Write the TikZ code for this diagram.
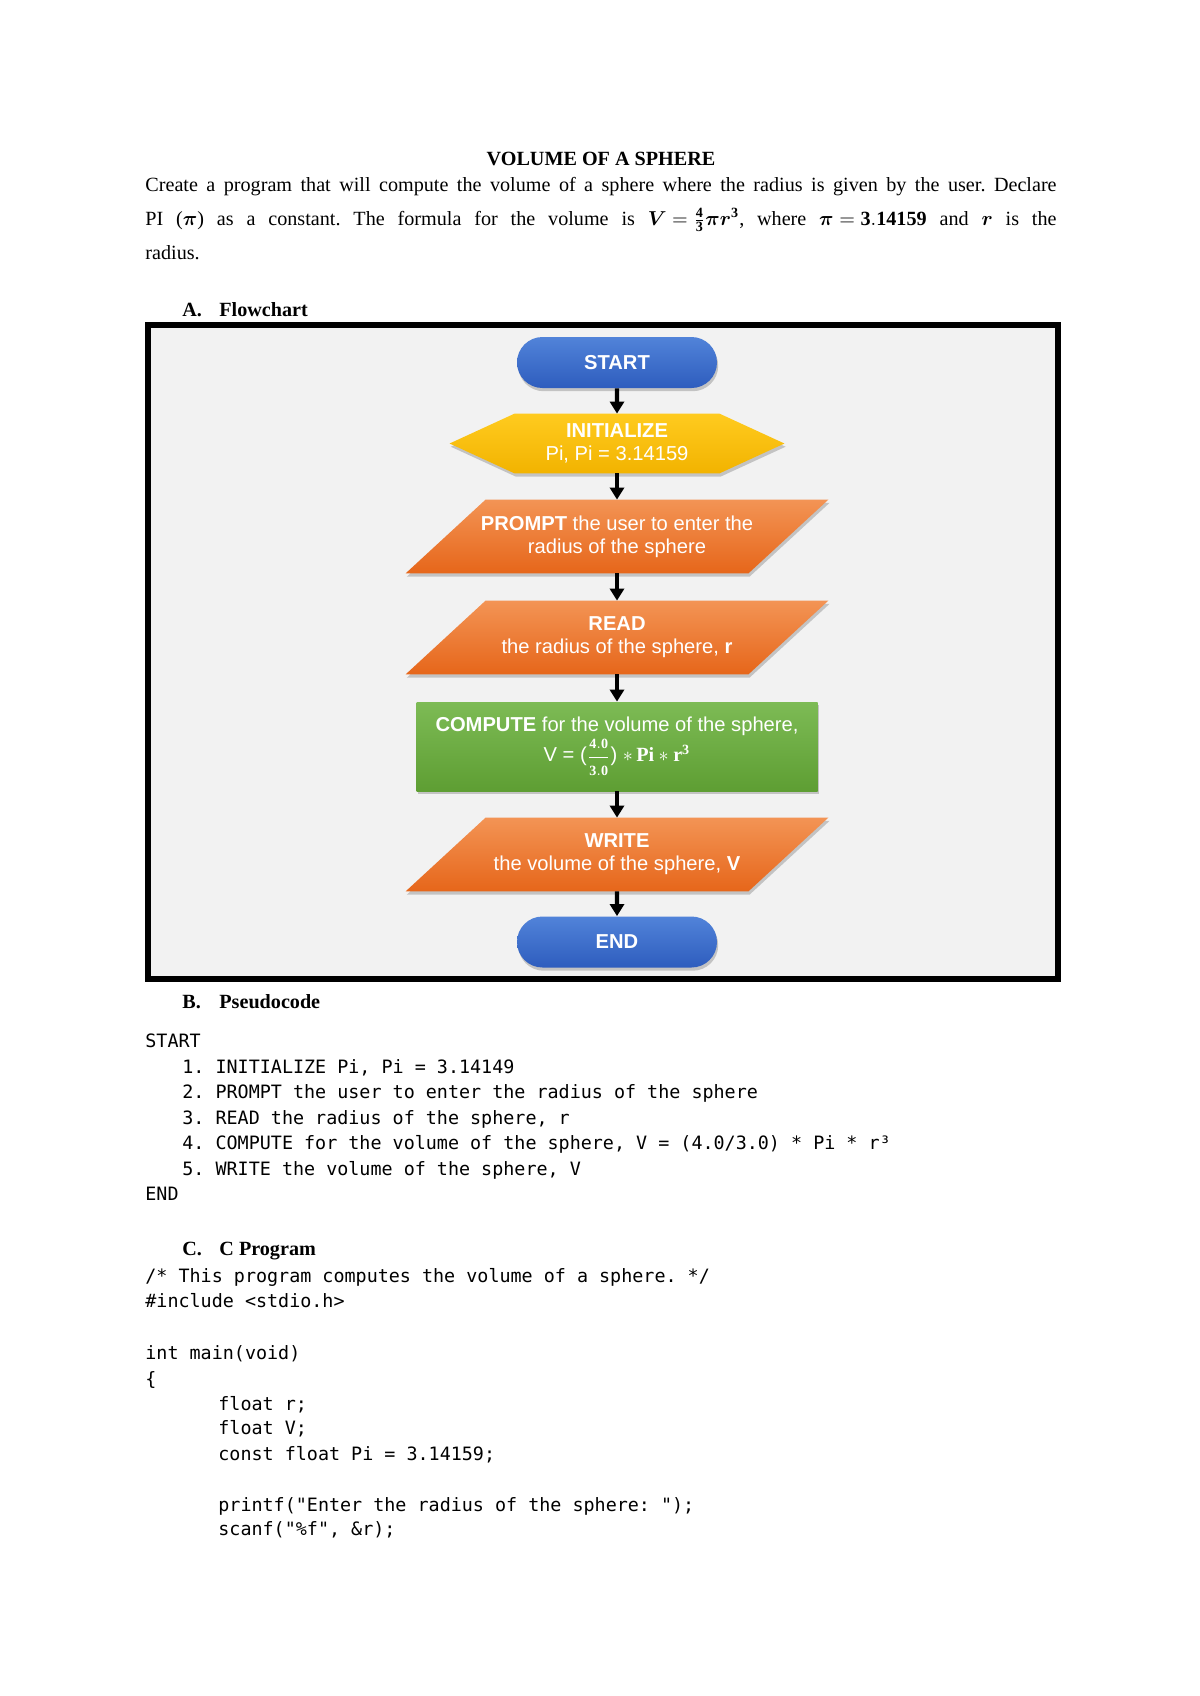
\documentclass[tikz,border=0pt]{standalone}
\usepackage{amsmath}
\usepackage{fontspec}
\setmainfont{Liberation Serif}
\setsansfont{Liberation Sans}
\newfontfamily\codefont{DejaVu Sans Mono}
\usetikzlibrary{shapes.geometric,shapes.misc,shadows,arrows.meta,backgrounds}
\def\u{0.49606pt}
\definecolor{framefill}{HTML}{F2F2F2}
\definecolor{bluetop}{HTML}{5183D9}
\definecolor{bluebot}{HTML}{2E5DBE}
\definecolor{yeltop}{HTML}{FFCB1F}
\definecolor{yelbot}{HTML}{F2B300}
\definecolor{ortop}{HTML}{F39455}
\definecolor{orbot}{HTML}{E6661A}
\definecolor{grtop}{HTML}{7DBB55}
\definecolor{grbot}{HTML}{5E9E33}
\newcommand\parashape[1]{\shade[top color=ortop,bottom color=orbot,shadowed]
  ([xshift=80*\u]#1.north west) -- (#1.north east) -- ([xshift=-80*\u]#1.south east) -- (#1.south west) -- cycle;}
\begin{document}
\frenchspacing
\thickmuskip=5mu\medmuskip=4mu
\begin{tikzpicture}[x=\u,y=-\u,
  flowtext/.style={text=white, font=\sffamily\fontsize{10}{11.5}\selectfont, align=center, inner sep=0pt},
  shadowed/.style={drop shadow={shadow xshift=0.6pt, shadow yshift=-1.6pt, opacity=0.28, fill=black!70}},
  terminal/.style={rounded rectangle, flowtext, shadowed, minimum width=200*\u, minimum height=51*\u,
     top color=bluetop, bottom color=bluebot, font=\sffamily\bfseries\fontsize{10}{12}\selectfont},
  iobox/.style={rectangle, flowtext, minimum width=422*\u, minimum height=73*\u},
  prepbox/.style={rectangle, flowtext, minimum width=334*\u, minimum height=59*\u},
  procbox/.style={rectangle, flowtext, shadowed, minimum width=401*\u, minimum height=89*\u,
     top color=grtop, bottom color=grbot},
  arr/.style={-{Triangle[length=6pt,width=7pt]}, line width=2.1pt, black},
  body/.style={anchor=base west, inner sep=0pt, font=\fontsize{10}{12}\selectfont},
  head/.style={anchor=base west, inner sep=0pt, font=\bfseries\fontsize{10}{12}\selectfont},
  code/.style={anchor=base west, inner sep=0pt, font=\codefont\fontsize{9.12}{12}\selectfont}
]
\useasboundingbox (0,0) rectangle (1200,1696);
\begin{scope}[on background layer]
\fill[white] (0,0) rectangle (1200,1696);
\draw[line width=6*\u, fill=framefill] (148,325) rectangle (1058,979);
\end{scope}

% ---- header text ----
\node[anchor=base, inner sep=0pt, font=\bfseries\fontsize{10}{12}\selectfont] (title) at (601,165) {VOLUME OF A SPHERE};
\node[body] (p1) at (145,191) {\makebox[452pt][s]{Create a program that will compute the volume of a sphere where the radius is given by the user. Declare}};
\node[body] (p2) at (145,225) {\makebox[452pt][s]{PI ($\boldsymbol{\pi}$) as a constant. The formula for the volume is $\boldsymbol{V}=\tfrac{\mathbf{4}}{\mathbf{3}}\boldsymbol{\pi}\boldsymbol{r}^{\mathbf{3}}$, where $\boldsymbol{\pi}=\mathbf{3.14159}$ and $\boldsymbol{r}$ is the}};
\node[body] (p3) at (145,259) {radius.};
\node[head] (ha) at (182,316) {A.};
\node[head] (hat) at (219,316) {Flowchart};

% ---- flowchart nodes ----
\node[terminal] (start) at (617,362.5) {START};
\node[prepbox] (init) at (617,443.5) {{\bfseries INITIALIZE}\\Pi, Pi = 3.14159};
\node[iobox] (prompt) at (617,536.5) {{\bfseries PROMPT} the user to enter the\\radius of the sphere};
\node[iobox] (read) at (617,637.5) {{\bfseries READ}\\the radius of the sphere, {\bfseries r}};
\node[procbox] (compute) at (617,746.5) {{\bfseries COMPUTE} for the volume of the sphere,\\[0.5pt]
  V = ($\displaystyle\frac{\scriptstyle\mathbf{4.0}}{\scriptstyle\mathbf{3.0}}$) $\ast\,\mathbf{Pi}\ast\mathbf{r}^{\mathbf{3}}$};
\node[iobox] (write) at (617,854.5) {{\bfseries WRITE}\\the volume of the sphere, {\bfseries V}};
\node[terminal] (end) at (617,942) {END};

\begin{scope}[on background layer]
\shade[top color=yeltop,bottom color=yelbot,shadowed]
  (init.west) -- ([xshift=65*\u]init.north west) -- ([xshift=-65*\u]init.north east) -- (init.east)
  -- ([xshift=-65*\u]init.south east) -- ([xshift=65*\u]init.south west) -- cycle;
\parashape{prompt}
\parashape{read}
\parashape{write}
\end{scope}

\draw[arr] (start) -- (init);
\draw[arr] (init) -- (prompt);
\draw[arr] (prompt) -- (read);
\draw[arr] (read) -- (compute);
\draw[arr] (compute) -- (write);
\draw[arr] (write) -- (end);

% ---- pseudocode ----
\node[head] (hb) at (182,1008) {B.};
\node[head] (hbt) at (219,1008) {Pseudocode};
\node[code] (ps0) at (145,1047) {START};
\node[code] (ps1) at (182,1073) {1. INITIALIZE Pi, Pi = 3.14149};
\node[code] (ps2) at (182,1098) {2. PROMPT the user to enter the radius of the sphere};
\node[code] (ps3) at (182,1124) {3. READ the radius of the sphere, r};
\node[code] (ps4) at (182,1149) {4. COMPUTE for the volume of the sphere, V = (4.0/3.0) * Pi * r³};
\node[code] (ps5) at (182,1175) {5. WRITE the volume of the sphere, V};
\node[code] (ps6) at (145,1200) {END};

% ---- C program ----
\node[head] (hc) at (182,1255) {C.};
\node[head] (hct) at (219,1255) {C Program};
\node[code] (c1) at (145,1282) {/* This program computes the volume of a sphere. */};
\node[code] (c2) at (145,1307) {\#include <stdio.h>};
\node[code] (c3) at (145,1359) {int main(void)};
\node[code] (c4) at (145,1385) {\{};
\node[code] (c5) at (218,1410) {float r;};
\node[code] (c6) at (218,1434) {float V;};
\node[code] (c7) at (218,1460) {const float Pi = 3.14159;};
\node[code] (c8) at (218,1511) {printf("Enter the radius of the sphere: ");};
\node[code] (c9) at (218,1535) {scanf("\%f", \&r);};
\end{tikzpicture}
\end{document}
